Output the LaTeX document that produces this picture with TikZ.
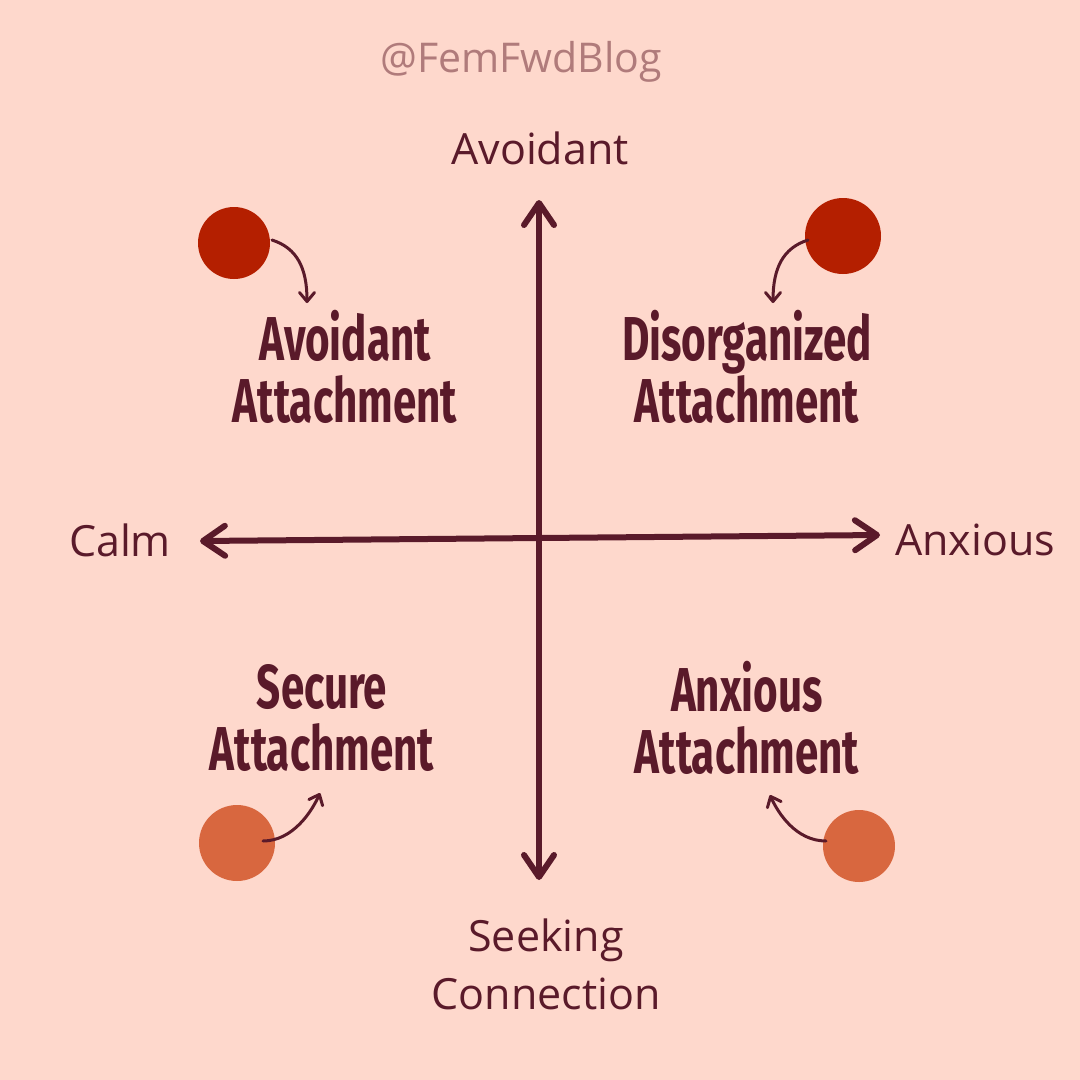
\documentclass[tikz,border=0pt]{standalone}
\usepackage{fontspec}
\setmainfont{Open Sans}
\newfontfamily\headfont[FakeStretch=0.68]{Fira Sans}
\definecolor{BgPink}   {HTML}{FED8CC}
\definecolor{Maroon}   {HTML}{5A1A2A}
\definecolor{DotRed}   {HTML}{B41F00}
\definecolor{DotOrange}{HTML}{D8673F}
\definecolor{HandleGray}{HTML}{B07B7B}
\usetikzlibrary{arrows.meta,positioning,calc}

\begin{document}
\begin{tikzpicture}[x=1pt,y=-1pt,
  axisline/.style={line width=6pt,Maroon,line cap=round,
    {Straight Barb[length=22pt,width=30pt,round]}-{Straight Barb[length=22pt,width=30pt,round]}},
  curlyarrow/.style={line width=3pt,Maroon,line cap=round,
    -{Straight Barb[length=9pt,width=15pt,round]}},
  dot/.style={circle,inner sep=0pt,minimum size=#1},
  axislabel/.style={text=Maroon,font=\fontsize{43}{58}\selectfont,align=center},
  quadlabel/.style={text=Maroon,font=\headfont\bfseries\fontsize{62}{62}\selectfont,align=center}]
  % Page
  \fill[BgPink] (0,0) rectangle (1080,1080);
  \useasboundingbox (0,0) rectangle (1080,1080);
  \node[text=HandleGray,font=\fontsize{41}{48}\selectfont] (handle) at (521,62) {@FemFwdBlog};
  % Axes
  \coordinate (top) at (539,200);
  \coordinate (bottom) at (539,880);
  \coordinate (left) at (200,541);
  \coordinate (right) at (880,535);
  \draw[axisline] (bottom) -- (top);
  \draw[axisline] (left) -- (right);
  \node[axislabel] (avoid) at (540,148) {Avoidant};
  \node[axislabel] (calm) at (120,540) {Calm};
  \node[axislabel] (anx) at (975,540) {Anxious};
  \node[axislabel] (seek) at (546,964) {Seeking\\Connection};
  % Quadrant labels
  \node[quadlabel] (avoidAtt) at (345,367) {Avoidant\\Attachment};
  \node[quadlabel] (disAtt) at (747,367) {Disorganized\\Attachment};
  \node[quadlabel] (secAtt) at (322,718) {Secure\\Attachment};
  \node[quadlabel] (anxAtt) at (747,718) {Anxious\\Attachment};
  % Dots
  \node[dot=72pt,fill=DotRed] (tlDot) at (234,243) {};
  \node[dot=76pt,fill=DotRed] (trDot) at (843,236) {};
  \node[dot=76pt,fill=DotOrange] (blDot) at (237,843) {};
  \node[dot=72pt,fill=DotOrange] (brDot) at (859,846) {};
  % Little arrows
  \coordinate (tlTip) at (307,303);
  \coordinate (trTip) at (773,303);
  \coordinate (blTip) at (320,793);
  \coordinate (brTip) at (770,795);
  \draw[curlyarrow] ($(tlDot.center)+(38,-3)$) .. controls +(25,8) and +(0,-35) .. (tlTip);
  \draw[curlyarrow] ($(trDot.center)+(-35,4)$) .. controls +(-25,8) and +(0,-35) .. (trTip);
  \draw[curlyarrow] ($(blDot.center)+(26,-2)$) .. controls +(30,0) and +(-8,18) .. (blTip);
  \draw[curlyarrow] ($(brDot.center)+(-33,-5)$) .. controls +(-30,0) and +(8,18) .. (brTip);
\end{tikzpicture}
\end{document}
